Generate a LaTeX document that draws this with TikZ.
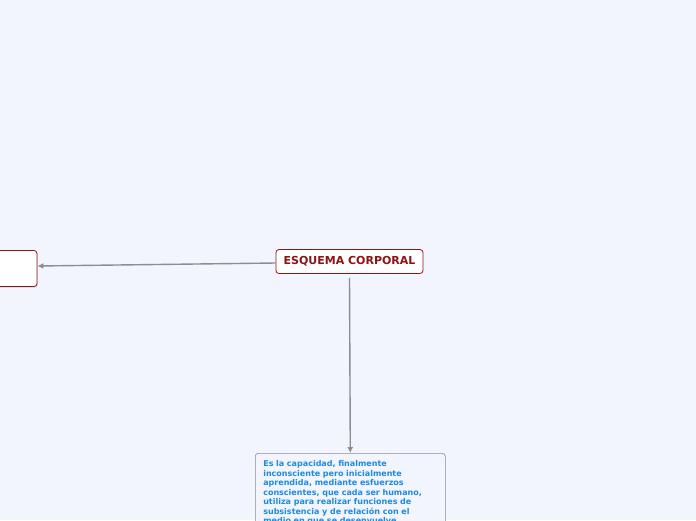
\documentclass[tikz,border=0pt]{standalone}
\usepackage{fontspec}
\setmainfont{DejaVu Sans}
\usetikzlibrary{arrows.meta}
\usetikzlibrary{shadows}
\definecolor{paper}{HTML}{F2F5FE}
\definecolor{rootred}{HTML}{8E1414}
\definecolor{linkgray}{HTML}{8C8C94}
\definecolor{notetext}{HTML}{1E8AE0}
\definecolor{noteline}{HTML}{8A8D99}

\begin{document}
\begin{tikzpicture}[x=1pt, y=-1pt,
    topic/.style={draw=rootred, fill=white, rounded corners=3pt, line width=0.8pt},
    link/.style={draw=linkgray, line width=1.4pt, -{Latex[length=6pt, width=6pt]}},
    note/.style={draw=noteline, fill=paper, rounded corners=3pt, line width=0.6pt,
      text=notetext, align=left, text width=174pt, inner xsep=8pt, inner ysep=7.5pt,
      font=\fontsize{8}{9.5}\selectfont\bfseries}
  ]
    \clip (0,0) rectangle (696,520);
    \fill[paper] (0,0) rectangle (696,520);
    \node[topic, minimum width=147pt, minimum height=24pt, text=rootred,
      font=\fontsize{11}{13}\selectfont\bfseries] (esquema) at (349.5,261.5) {ESQUEMA CORPORAL};
    \node[topic, minimum width=140pt, minimum height=36pt,
      drop shadow={opacity=0.3, shadow xshift=0.6pt, shadow yshift=-1pt}] (izq) at (-33,268.5) {};
    \node[note, anchor=north west] (def) at (255,453)
      {Es la capacidad, finalmente\\
       inconsciente pero inicialmente\\
       aprendida, mediante esfuerzos\\
       conscientes, que cada ser humano,\\
       utiliza para realizar funciones de\\
       subsistencia y de relación con el\\
       medio en que se desenvuelve.};
    \draw[link] ([yshift=-1.5pt]esquema.west) -- ([yshift=2.5pt]izq.east);
    \draw[link] ([yshift=-4pt]esquema.south) -- (def.north);
  \end{tikzpicture}
\end{document}
